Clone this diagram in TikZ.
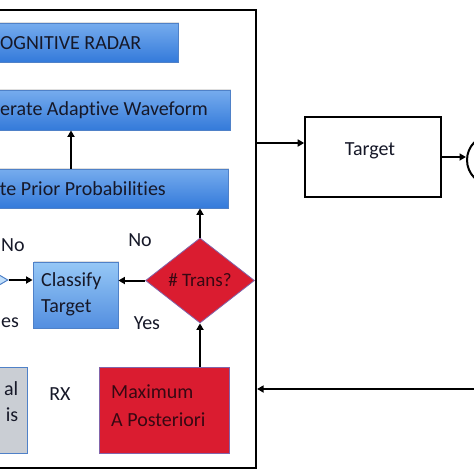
\documentclass[tikz,border=0pt]{standalone}
\usepackage{fontspec}
\setmainfont{Carlito}[Ligatures=NoCommon]
\usetikzlibrary{arrows.meta,shapes.geometric,shadows,calc}
\definecolor{bluetop}{RGB}{118,172,238}
\definecolor{bluebot}{RGB}{52,122,218}
\definecolor{bluelt}{RGB}{150,200,246}
\definecolor{blueedge}{RGB}{79,129,200}
\definecolor{redfill}{RGB}{218,28,48}
\definecolor{rededge}{RGB}{130,100,170}
\definecolor{greyfill}{RGB}{202,206,212}
\definecolor{txtdark}{RGB}{22,24,40}
\definecolor{txtred}{RGB}{55,8,18}
\tikzset{
  bluebox/.style={draw=blueedge, line width=0.8pt, top color=bluetop, bottom color=bluebot,
    drop shadow={opacity=0.25, shadow xshift=1pt, shadow yshift=1.5pt}},
  clsbox/.style={draw=blueedge, line width=0.8pt, top color=bluelt, bottom color=bluebot!85,
    drop shadow={opacity=0.25, shadow xshift=1pt, shadow yshift=1.5pt}},
  redbox/.style={draw=rededge, line width=0.8pt, fill=redfill},
  lbl/.style={font=\fontsize{20}{24}\selectfont, text=txtdark, inner sep=0pt},
  arr/.style={line width=2pt, -{Triangle[length=6.5pt,width=7pt]}},
}
\begin{document}
\begin{tikzpicture}[x=1pt,y=-1pt]
\useasboundingbox (0,0) rectangle (474,474);
\clip (0,0) rectangle (474,474);
\fill[white] (0,0) rectangle (474,474);
% frame
\node[draw, line width=2.2pt, minimum width=276pt, minimum height=458pt, inner sep=0pt] (frame) at (118,239) {};
% blue boxes
\node[bluebox, minimum width=238pt, minimum height=39pt, inner sep=0pt] (cog) at (59,42.5) {};
\node[lbl, anchor=east] (cogt) at (141.5,43) {OGNITIVE RADAR};
\node[bluebox, minimum width=290pt, minimum height=40pt, inner sep=0pt] (gen) at (85,110) {};
\node[lbl, anchor=east] (gent) at (208,110) {erate Adaptive Waveform};
\node[bluebox, minimum width=288pt, minimum height=39pt, inner sep=0pt] (pri) at (84,188.5) {};
\node[lbl, anchor=east] (prit) at (166,188.5) {te Prior Probabilities};
% classify
\node[clsbox, minimum width=85pt, minimum height=66pt, inner sep=0pt] (cls) at (75.5,295) {};
\node[lbl, anchor=west, align=left] (clst) at (41,294) {Classify\\[2pt]Target};
% diamond
\node[diamond, redbox, minimum width=109pt, minimum height=85pt, inner sep=0pt, font=\fontsize{19}{22}\selectfont, text=txtred] (tr) at (200,280.5) {\# Trans?};
% small diamond
\node[diamond, draw=blueedge, line width=1pt, fill=bluelt!60, minimum width=22pt, minimum height=13pt, inner sep=0pt] (sd) at (-3,280) {};
% MAP
\node[redbox, minimum width=130pt, minimum height=86pt, inner sep=0pt] (map) at (164,410) {};
\node[lbl, text=txtred, anchor=west, align=left] (mapt) at (111,406) {Maximum\\[4pt]A Posteriori};
% grey box
\node[draw=blueedge, line width=0.8pt, fill=greyfill, minimum width=87pt, minimum height=86pt, inner sep=0pt] (gr) at (-16.5,410) {};
\node[lbl, anchor=east, align=right] (grt) at (18.5,402) {al\\[2pt]is\hspace{3pt}};
% labels
\node[lbl] (no1) at (140,240) {No};
\node[lbl] (yes1) at (147,323) {Yes};
\node[lbl, anchor=west] (no2) at (1,245) {No};
\node[lbl, anchor=west] (yes2) at (1,323) {es};
\node[lbl] (rx) at (60,394) {RX};
% target
\node[draw, line width=1.6pt, minimum width=136pt, minimum height=80pt, inner sep=0pt] (tgt) at (373,157) {};
\node[lbl] (tgtt) at (370,151) {Target};
% sensor circle
\node[circle, draw, line width=2pt, minimum size=50pt, inner sep=0pt] (sen) at (492,160) {};
\coordinate (inR) at (490,389);
% arrows
\draw[arr] (pri.north -| 71,0) -- (gen.south -| 71,0);
\draw[arr] (tr.north) -- (pri.south -| tr.north);
\draw[arr] (map.north -| tr.south) -- (tr.south);
\draw[arr] (tr.west) -- (cls.east |- tr.west);
\draw[arr] (sd.east) -- (cls.west |- sd.east);
\draw[arr] (frame.east |- 0,143) -- (tgt.west |- 0,143);
\draw[arr] (tgt.east) -- (sen.west |- tgt.east);
\draw[arr] (inR) -- (frame.east |- inR);
\end{tikzpicture}
\end{document}
